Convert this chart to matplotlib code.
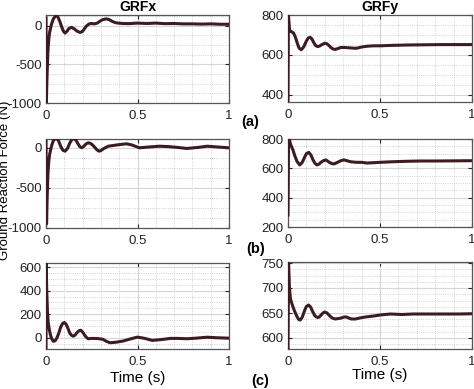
import numpy as np
import matplotlib
matplotlib.use("Agg")
import matplotlib.pyplot as plt
from matplotlib.ticker import MultipleLocator, AutoMinorLocator

plt.rcParams['font.family'] = ['Liberation Sans', 'DejaVu Sans']

# (a) GRFx
t_ax = [0, 0.002, 0.005, 0.01, 0.015, 0.02, 0.03, 0.04, 0.055, 0.065, 0.075, 0.085,
        0.095, 0.104, 0.115, 0.125, 0.14, 0.155, 0.17, 0.185, 0.195, 0.205, 0.22,
        0.236, 0.25, 0.265, 0.28, 0.295, 0.31, 0.33, 0.345, 0.36, 0.38, 0.395, 0.42,
        0.45, 0.5, 0.55, 0.6, 0.65, 0.7, 0.75, 0.8, 0.85, 0.9, 0.95, 1.0]
v_ax = [100, -1000, -700, -350, -180, -80, 20, 90, 135, 115, 60, -10,
        -70, -94, -70, -35, -20, -40, -70, -85, -80, -55, -5,
        25, 30, 25, 35, 60, 80, 90, 80, 60, 40, 35, 30,
        28, 35, 30, 35, 28, 30, 25, 25, 22, 25, 20, 20]

# (b) GRFx
t_bx = [0, 0.003, 0.006, 0.01, 0.015, 0.02, 0.03, 0.04, 0.055, 0.068, 0.08, 0.092,
        0.104, 0.117, 0.13, 0.142, 0.153, 0.165, 0.175, 0.185, 0.195, 0.205, 0.215,
        0.225, 0.236, 0.25, 0.265, 0.278, 0.29, 0.3, 0.315, 0.34, 0.37, 0.4, 0.44,
        0.47, 0.51, 0.56, 0.62, 0.67, 0.72, 0.77, 0.83, 0.88, 0.94, 1.0]
v_bx = [80, -950, -650, -350, -170, -80, 20, 90, 125, 90, 20, -30,
        -42, -10, 60, 105, 117, 90, 50, 15, 0, 15, 40,
        58, 62, 45, 10, -25, -42, -35, -10, 20, 30, 40, 50,
        35, 0, 10, 20, 15, 5, -8, 5, 20, 10, 0]

# (c) GRFx
t_cx = [0, 0.001, 0.004, 0.008, 0.012, 0.018, 0.025, 0.032, 0.04, 0.05, 0.06, 0.07,
        0.08, 0.09, 0.1, 0.11, 0.12, 0.13, 0.14, 0.15, 0.16, 0.17, 0.18, 0.19, 0.2,
        0.21, 0.22, 0.23, 0.25, 0.28, 0.31, 0.33, 0.35, 0.38, 0.42, 0.46, 0.5, 0.54,
        0.58, 0.63, 0.68, 0.72, 0.77, 0.82, 0.88, 0.94, 1.0]
v_cx = [-100, 630, 400, 220, 130, 70, 20, -10, -30, -25, 0, 40,
        90, 120, 130, 115, 80, 40, 20, 14, 25, 45, 60, 64, 50,
        25, 5, -8, -5, -6, -12, -30, -42, -38, -28, -10, 6, -5,
        -22, -15, -5, -5, -8, -3, 5, 0, -3]

# (a) GRFy
t_ay = [0, 0.002, 0.004, 0.008, 0.012, 0.02, 0.03, 0.04, 0.05, 0.06, 0.072, 0.085,
        0.1, 0.11, 0.12, 0.13, 0.14, 0.15, 0.16, 0.172, 0.185, 0.2, 0.21, 0.222,
        0.235, 0.245, 0.257, 0.27, 0.285, 0.3, 0.33, 0.36, 0.375, 0.4, 0.43, 0.466,
        0.5, 0.56, 0.65, 0.74, 0.83, 0.92, 1.0]
v_ay = [365, 800, 780, 730, 718, 716, 710, 690, 660, 635, 626, 640,
        670, 685, 689, 680, 662, 648, 642, 645, 652, 659, 657, 648,
        636, 630, 628, 632, 637, 638, 636, 634, 634, 640, 644, 646,
        646, 648, 650, 651, 652, 652, 652]

# (b) GRFy
t_by = [0, 0.003, 0.008, 0.015, 0.027, 0.037, 0.05, 0.064, 0.077, 0.09, 0.1, 0.113,
        0.125, 0.135, 0.147, 0.158, 0.17, 0.18, 0.192, 0.205, 0.217, 0.228, 0.24,
        0.25, 0.265, 0.28, 0.295, 0.305, 0.32, 0.34, 0.37, 0.4, 0.43, 0.46, 0.5,
        0.57, 0.645, 0.72, 0.8, 0.9, 1.0]
v_by = [282, 800, 790, 760, 725, 685, 645, 623, 640, 675, 700, 709,
        690, 660, 633, 623, 630, 642, 652, 657, 648, 638, 632,
        630, 638, 648, 655, 657, 652, 645, 641, 641, 636, 638, 641,
        645, 648, 650, 650, 651, 652]

# (c) GRFy
t_cy = [0, 0.003, 0.008, 0.013, 0.02, 0.03, 0.04, 0.05, 0.058, 0.067, 0.078, 0.09,
        0.1, 0.112, 0.123, 0.135, 0.147, 0.16, 0.17, 0.18, 0.19, 0.2, 0.212, 0.225,
        0.24, 0.257, 0.275, 0.29, 0.305, 0.317, 0.33, 0.345, 0.366, 0.39, 0.42,
        0.466, 0.5, 0.556, 0.62, 0.68, 0.737, 0.8, 0.87, 0.93, 1.0]
v_cy = [578, 750, 700, 679, 670, 659, 650, 642, 637, 636, 642, 655,
        663, 666, 662, 652, 644, 641, 642, 646, 650, 652, 650, 645,
        640, 638, 639, 640, 642, 642, 640, 638, 638, 640, 642,
        644, 646, 648, 647, 648, 648, 648, 648, 648, 648.5]

W, H = 474, 389
line_col = '#3b1c22'

panels = [
    # (t, v, box px: left, top, right, bottom, ylim, major y step)
    (t_ax, v_ax, (46, 15, 229, 103), (-1000, 140), 500),
    (t_ay, v_ay, (288, 15, 472, 102), (365, 800), 200),
    (t_bx, v_bx, (46, 139, 229, 228), (-1000, 110), 500),
    (t_by, v_by, (288, 139, 472, 227), (200, 800), 200),
    (t_cx, v_cx, (46, 263, 229, 349), (-95, 635), 200),
    (t_cy, v_cy, (288, 262, 472, 349), (578, 752), 50),
]

fig = plt.figure(figsize=(W / 100, H / 100), dpi=100)
fmt = plt.FuncFormatter(lambda x, p: '%g' % x)

axes = []
for t, v, (l, tp, r, b), ylim, step in panels:
    ax = fig.add_axes([l / W, 1 - b / H, (r - l) / W, (b - tp) / H])
    ax.plot(t, v, color=line_col, lw=2.2, zorder=3, solid_joinstyle='round')
    ax.set_xlim(0, 1)
    ax.set_ylim(*ylim)
    ax.xaxis.set_major_locator(MultipleLocator(0.5))
    ax.xaxis.set_minor_locator(MultipleLocator(0.1))
    ax.yaxis.set_major_locator(MultipleLocator(step))
    ax.yaxis.set_minor_locator(AutoMinorLocator(4))
    ax.xaxis.set_major_formatter(fmt)
    ax.yaxis.set_major_formatter(fmt)
    ax.grid(which='major', color='#d6d6d6', lw=0.8, ls='-')
    ax.grid(which='minor', color='#c4c4c4', lw=0.6, ls=':')
    ax.set_axisbelow(True)
    ax.tick_params(which='both', direction='in', top=True, right=True,
                   labelsize=9.5, colors='#222222', pad=3)
    ax.tick_params(axis='x', pad=5)
    ax.tick_params(which='major', length=3)
    ax.tick_params(which='minor', length=0)
    for s in ax.spines.values():
        s.set_color('#555555')
        s.set_linewidth(0.9)
    axes.append(ax)

axes[0].set_title('GRFx', fontsize=10, fontweight='bold', pad=3)
axes[1].set_title('GRFy', fontsize=10, fontweight='bold', pad=3)
axes[4].set_xlabel('Time (s)', fontsize=11, labelpad=2)
axes[5].set_xlabel('Time (s)', fontsize=11, labelpad=0)

fig.text(5 / W, 1 - 180 / H, 'Ground Reaction Force (N)', rotation=90,
         ha='center', va='center', fontsize=9.5)
fig.text(241 / W, 1 - 122 / H, '(a)', fontsize=10.5, fontweight='bold', va='center')
fig.text(246 / W, 1 - 249 / H, '(b)', fontsize=10.5, fontweight='bold', va='center')
fig.text(251 / W, 1 - 381 / H, '(c)', fontsize=10.5, fontweight='bold', va='center')

fig.savefig('out.png', dpi=100)
